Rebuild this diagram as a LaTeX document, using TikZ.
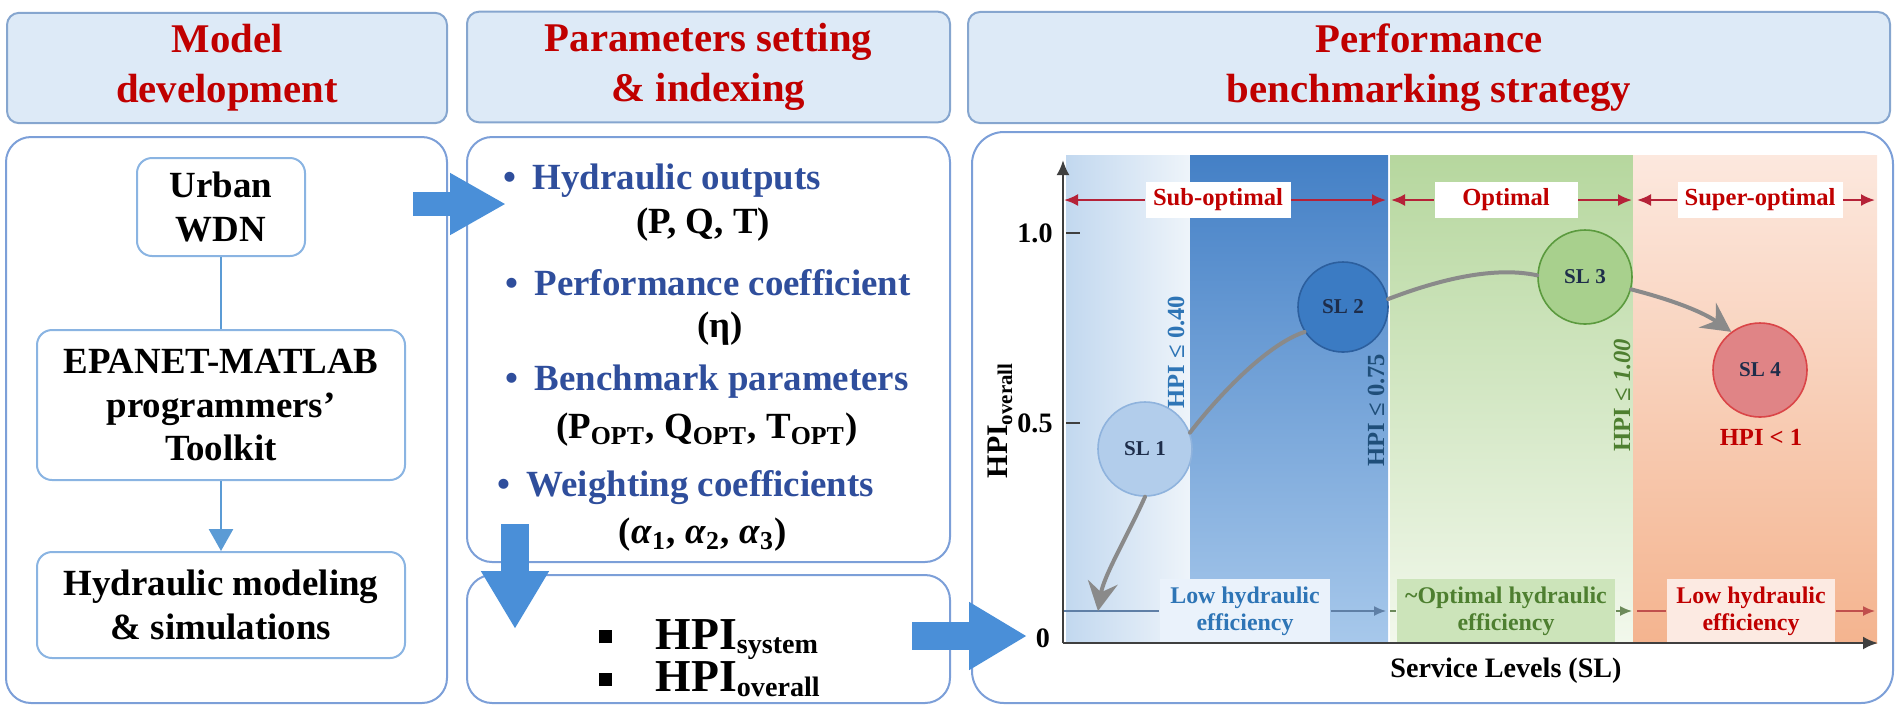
\documentclass[tikz,border=0pt]{standalone}
\usepackage{fontspec}
\setmainfont{Liberation Serif}
\usetikzlibrary{arrows.meta,positioning}

\definecolor{hdrfill}{HTML}{DDEAF7}
\definecolor{hdrline}{HTML}{86A6CF}
\definecolor{panelline}{HTML}{7C9FD8}
\definecolor{boxline}{HTML}{8AB4E2}
\definecolor{titlered}{HTML}{C00000}
\definecolor{itemblue}{HTML}{2F4E9C}
\definecolor{bigblue}{HTML}{4A8FD8}
\definecolor{flowblue}{HTML}{5B9BD5}
\definecolor{band1a}{HTML}{C2D8EF}
\definecolor{band1b}{HTML}{EEF4FA}
\definecolor{band2top}{HTML}{4480C6}
\definecolor{band2bot}{HTML}{A7C8EB}
\definecolor{band3top}{HTML}{B6D79E}
\definecolor{band3bot}{HTML}{F2F8EC}
\definecolor{band4top}{HTML}{FCE8DE}
\definecolor{band4bot}{HTML}{F4B48F}
\definecolor{regionred}{HTML}{B52238}
\definecolor{axisgray}{HTML}{3F3F3F}
\definecolor{trendgray}{HTML}{8A8A8A}
\definecolor{sl1fill}{HTML}{B2CDEB}
\definecolor{sl1line}{HTML}{8FB3DD}
\definecolor{sl2fill}{HTML}{3B7BC3}
\definecolor{sl2line}{HTML}{2C5F9E}
\definecolor{sl3fill}{HTML}{A8D08D}
\definecolor{sl3line}{HTML}{5B9A3E}
\definecolor{sl4fill}{HTML}{E08486}
\definecolor{sl4line}{HTML}{DA4548}
\definecolor{slnavy}{HTML}{1E2D4A}
\definecolor{hpiblue}{HTML}{2E75B6}
\definecolor{hpinavy}{HTML}{1F4E79}
\definecolor{hpigreen}{HTML}{4E7F30}
\definecolor{effblueline}{HTML}{5F7FA6}
\definecolor{effgreenline}{HTML}{6C8A5A}
\definecolor{effredline}{HTML}{C0504D}
\definecolor{efffillblue}{HTML}{EAF2FB}
\definecolor{efffillgreen}{HTML}{CCE4BA}
\definecolor{efffillred}{HTML}{FCEAE2}

% small lowered index for the HPI names
\newcommand{\hpiidx}[1]{\raisebox{-0.2ex}{\fontsize{8}{9}\selectfont #1}}
% square bullet of the index list
\newcommand{\sqbullet}{\rule[0.3ex]{1.3mm}{1.3mm}\hspace{4.4mm}}

\begin{document}
\begin{tikzpicture}[x=0.1mm, y=-0.1mm,
        % common styles
        header/.style={draw=hdrline, fill=hdrfill, rounded corners=1.2mm, line width=0.2mm, align=center, text=titlered, font=\fontsize{11.6}{14.2}\selectfont\bfseries}, % column titles
        panel/.style={draw=panelline, rounded corners=2.5mm, line width=0.2mm}, % column frames
        stepbox/.style={draw=boxline, rounded corners=1.5mm, line width=0.2mm, align=center, font=\fontsize{10.5}{12.4}\selectfont\bfseries}, % boxes of the left column
        item text/.style={anchor=west, inner sep=0pt, text=itemblue, font=\fontsize{10.5}{12}\selectfont\bfseries}, % bullet items
        param text/.style={inner sep=0pt, font=\fontsize{10.5}{12}\selectfont\bfseries}, % symbols below the items
        index text/.style={anchor=north west, align=left, inner sep=0pt, font={\fontsize{13}{12}\selectfont\bfseries\lineskiplimit=-20pt}}, % HPI names
        big arrow/.style={draw=bigblue, line width=2.8mm, -{Triangle[length=5.8mm, width=6.4mm]}}, % thick arrows between columns
        flow/.style={draw=flowblue, line width=0.27mm}, % thin links of the left column
        band label/.style={fill=white, text=titlered, inner sep=0pt, minimum height=3.6mm, font=\fontsize{7}{8}\selectfont\bfseries}, % region names
        region/.style={draw=regionred, line width=0.22mm, -{Latex[length=1.4mm, width=1.2mm]}}, % region arrows
        axis/.style={draw=axisgray, line width=0.25mm, -{Latex[length=1.5mm, width=1.3mm]}}, % chart axes
        tick label/.style={font=\fontsize{8}{9}\selectfont\bfseries}, % axis numbers
        sl/.style={circle, minimum size=9.4mm, inner sep=0pt, line width=0.16mm, text=slnavy, font=\fontsize{6}{6}\selectfont\bfseries}, % service levels
        trend/.style={draw=trendgray, line width=0.4mm, line cap=round}, % curve through the levels
        trend tip/.style={-{Stealth[length=2.9mm, width=3mm, inset=1mm]}},
        hpi bound/.style={rotate=90, font=\fontsize{7}{8}\selectfont\bfseries}, % vertical limits
        eff label/.style={align=center, inner sep=0pt, minimum height=6.4mm, font=\fontsize{6.8}{7.6}\selectfont\bfseries}, % efficiency boxes
        eff line/.style={line width=0.15mm, -{Latex[length=1.2mm, width=1mm]}}
    ]

        \useasboundingbox (0,0) rectangle (1900,717);

        % --- Column 1: Model development ---
        \begin{scope}
            % 1. title and frame
            \node[header, minimum width=44mm, minimum height=11mm] (hdrModel) at (227,68) {Model\\development};
            \node[panel, minimum width=44.1mm, minimum height=56.6mm] (bodyModel) at (226.5,420) {};

            % 2. steps
            \node[stepbox, minimum width=16.8mm, minimum height=9.8mm] (urban) at (221,207) {Urban\\WDN};
            \node[stepbox, minimum width=36.8mm, minimum height=15mm] (epanet) at (221,405) {EPANET-MATLAB\\programmers'\\Toolkit};
            \node[stepbox, minimum width=36.8mm, minimum height=10.6mm] (hydmod) at (221,605) {Hydraulic modeling\\\& simulations};

            % 3. links
            \draw[flow] (urban) -- (epanet);
            \draw[flow, -{Triangle[length=2.2mm, width=2.4mm]}] (epanet) -- (hydmod);
        \end{scope}


        % --- Column 2: Parameters setting & indexing ---
        \begin{scope}
            % 1. title and frames
            \node[header, minimum width=48.3mm, minimum height=10.8mm] (hdrParam) at (708.5,67) {Parameters setting\\\& indexing};
            \node[panel, minimum width=48.3mm, minimum height=42.5mm] (bodyParam) at (708.5,349.5) {};
            \node[panel, minimum width=48.3mm, minimum height=12.8mm] (bodyHPI) at (708.5,639) {};

            % 2. parameter list
            \node[item text] (itemOut) at (503,181) {\textbullet\hspace{1.6mm}Hydraulic outputs};
            \node[param text] (parOut) at (703,225) {(P, Q, T)};
            \node[item text] (itemCoef) at (505,283) {\textbullet\hspace{1.6mm}Performance coefficient};
            \node[param text] (parCoef) at (720,329) {(η)};
            \node[item text] (itemBench) at (505,382) {\textbullet\hspace{1.6mm}Benchmark parameters};
            \node[param text] (parBench) at (707,430) {(P\textsubscript{OPT}, Q\textsubscript{OPT}, T\textsubscript{OPT})};
            \node[item text] (itemWeight) at (497,488) {\textbullet\hspace{1.6mm}Weighting coefficients};
            \node[param text] (parWeight) at (703,535) {(\textit{α}\textsubscript{1}, \textit{α}\textsubscript{2}, \textit{α}\textsubscript{3})};

            % 3. indices
            \node[index text] (hpiList) at (598,619) {\sqbullet HPI\hpiidx{system}\\\sqbullet HPI\hpiidx{overall}};
        \end{scope}


        % --- Column 3: Performance benchmarking strategy ---
        \begin{scope}
            % 1. title and frame
            \node[header, minimum width=92.2mm, minimum height=11mm] (hdrBench) at (1429,67.5) {Performance\\benchmarking strategy};
            \node[panel, rounded corners=3.2mm, minimum width=92.1mm, minimum height=57.1mm] (bodyBench) at (1432.5,417.5) {};

            % 2. coloured bands
            \shade[left color=band1a, right color=band1b] (1066,155) rectangle (1190,643);
            \shade[top color=band2top, bottom color=band2bot] (1190,155) rectangle (1388,643);
            \shade[top color=band3top, bottom color=band3bot] (1390,155) rectangle (1633,643);
            \shade[top color=band4top, bottom color=band4bot] (1633,155) rectangle (1877,643);

            % 3. efficiency labels along the bottom
            \coordinate (blueL) at (1063,611);  \coordinate (blueR) at (1386,611);
            \coordinate (greenL) at (1390,611); \coordinate (greenR) at (1632,611);
            \coordinate (redL) at (1637,611);   \coordinate (redR) at (1875,611);
            \node[eff label, fill=efffillblue, text=hpiblue, minimum width=17mm] (effLow) at (1245,611) {Low hydraulic\\efficiency};
            \node[eff label, fill=efffillgreen, text=hpigreen, minimum width=21.8mm] (effOpt) at (1506,611) {\textasciitilde Optimal hydraulic\\efficiency};
            \node[eff label, fill=efffillred, text=titlered, minimum width=16.8mm] (effHigh) at (1751,611) {Low hydraulic\\efficiency};
            \draw[eff line, draw=effblueline, -] (blueL) -- (effLow);
            \draw[eff line, draw=effblueline] (effLow) -- (blueR);
            \draw[eff line, draw=effgreenline, -] (greenL) -- (effOpt);
            \draw[eff line, draw=effgreenline] (effOpt) -- (greenR);
            \draw[eff line, draw=effredline, -] (redL) -- (effHigh);
            \draw[eff line, draw=effredline] (effHigh) -- (redR);

            % 4. regions along the top
            \node[band label, minimum width=14.5mm] (lblSub) at (1218,200) {Sub-optimal};
            \node[band label, minimum width=14.3mm] (lblOpt) at (1506,200) {Optimal};
            \node[band label, minimum width=16.5mm] (lblSuper) at (1760,200) {Super-optimal};
            \coordinate (subL) at (1064,200);   \coordinate (subR) at (1386,200);
            \coordinate (optL) at (1391,200);   \coordinate (optR) at (1632,200);
            \coordinate (supL) at (1637,200);   \coordinate (supR) at (1875,200);
            \draw[region] (lblSub) -- (subL);   \draw[region] (lblSub) -- (subR);
            \draw[region] (lblOpt) -- (optL);   \draw[region] (lblOpt) -- (optR);
            \draw[region] (lblSuper) -- (supL); \draw[region] (lblSuper) -- (supR);

            % 5. axes
            \coordinate (origin) at (1063,643);
            \coordinate (yTop) at (1063,160);
            \coordinate (xEnd) at (1878,643);
            \draw[axis] (origin) -- (yTop);
            \draw[axis] (origin) -- (xEnd);
            \foreach \ypos/\val/\nm in {233/1.0/One, 423/0.5/Half} {
                \draw[axisgray, line width=0.2mm] (1066,\ypos) -- (1080,\ypos);
                \node[tick label] (tick\nm) at (1035,\ypos) {\val};
            }
            \node[tick label] (tickZero) at (1043,638) {0};
            \node[tick label, rotate=90, font=\fontsize{8.5}{9}\selectfont\bfseries] (yLabel) at (1000,420) {HPI\textsubscript{overall}};
            \node[tick label] (xLabel) at (1506,671) {Service Levels (SL)};

            % 6. service levels and the curve through them
            \coordinate (zeroHit) at (1098,611);
            \node[sl, fill=sl1fill, draw=sl1line] (sl1) at (1145,449) {SL 1};
            \node[sl, fill=sl2fill, draw=sl2line, minimum size=9mm] (sl2) at (1343,307) {SL 2};
            \node[sl, fill=sl3fill, draw=sl3line] (sl3) at (1585,277) {SL 3};
            \node[sl, fill=sl4fill, draw=sl4line] (sl4) at (1760,370) {SL 4};
            \draw[trend, trend tip] (sl1.south) .. controls (1128,535) and (1104,575) .. (zeroHit);
            \draw[trend] (sl1.20) .. controls (1215,400) and (1265,345) .. (sl2.213);
            \draw[trend] (sl2.10) .. controls (1430,283) and (1490,265) .. (sl3.178);
            \draw[trend, trend tip] (sl3.-15) .. controls (1665,298) and (1700,310) .. (sl4.127);

            % 7. limits
            \node[hpi bound, text=hpiblue] (bound40) at (1176,352) {HPI ≤ 0.40};
            \node[hpi bound, text=hpinavy] (bound75) at (1376,410) {HPI ≤ 0.75};
            \node[hpi bound, text=hpigreen] (bound100) at (1622,395) {HPI ≤ \textit{1.00}};
            \node[font=\fontsize{7}{8}\selectfont\bfseries, text=titlered] (boundOne) at (1761,437) {HPI < 1};
        \end{scope}

        % --- arrows between the columns ---
        \coordinate (outModel) at (413,204);
        \coordinate (inParam) at (506,204);
        \coordinate (outParam) at (515,524);
        \coordinate (inHPI) at (515,629);
        \coordinate (outHPI) at (912,636);
        \coordinate (inBench) at (1027,636);
        \draw[big arrow, line width=2.4mm, -{Triangle[length=5.6mm, width=5.8mm]}] (outModel) -- (inParam);
        \draw[big arrow] (outParam) -- (inHPI);
        \draw[big arrow] (outHPI) -- (inBench);

    \end{tikzpicture}
\end{document}
